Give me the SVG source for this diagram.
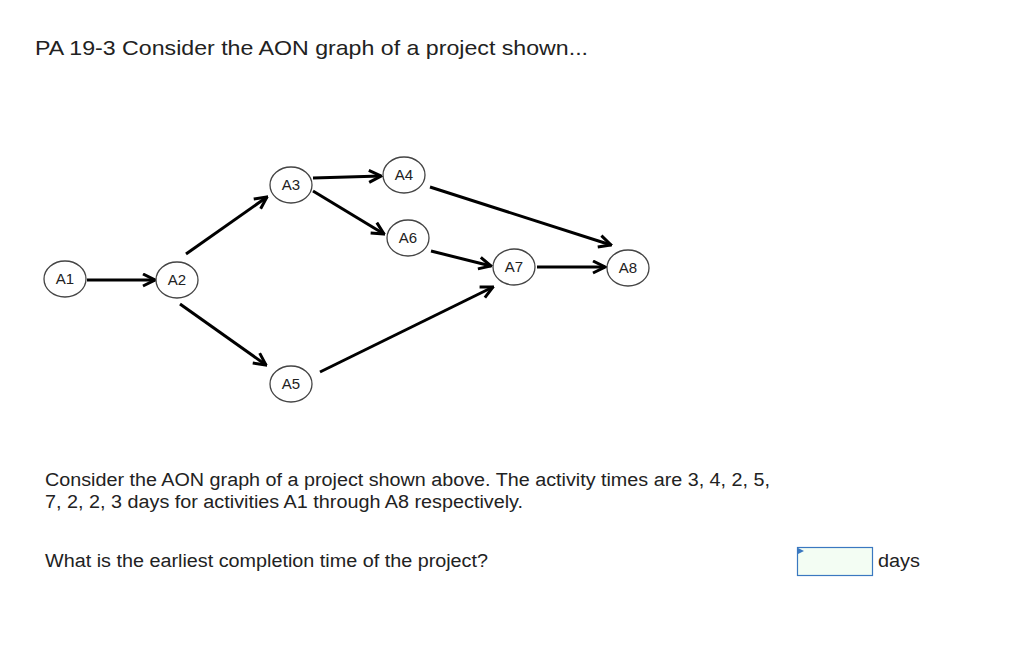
<svg xmlns="http://www.w3.org/2000/svg" width="1024" height="670" viewBox="0 0 1024 670">
<style>
.n ellipse{fill:#fff;stroke:#444;stroke-width:1.3}
.n text{font-family:"Liberation Sans",Arial,sans-serif;font-size:15px;fill:#222;text-anchor:middle}
.e line{stroke:#000;stroke-width:3;marker-end:url(#a)}
.t{font-family:"Liberation Sans",Arial,sans-serif;fill:#222}
</style>
<defs><marker id="a" viewBox="0 0 10 10" refX="9" refY="5" markerWidth="5" markerHeight="5" orient="auto" markerUnits="strokeWidth"><path d="M1,1 L9,5 L1,9" fill="none" stroke="#000" stroke-width="2"/></marker></defs>
<rect width="1024" height="670" fill="#fff"/>
<text class="t" x="35" y="55" font-size="21" textLength="553" lengthAdjust="spacingAndGlyphs">PA 19-3 Consider the AON graph of a project shown...</text>
<g class="e">
<line x1="87" y1="280" x2="155" y2="280"/>
<line x1="186" y1="254" x2="267" y2="197"/>
<line x1="313" y1="178" x2="381" y2="176"/>
<line x1="313" y1="191" x2="384" y2="234"/>
<line x1="430" y1="187" x2="611" y2="245"/>
<line x1="431" y1="251" x2="491" y2="266"/>
<line x1="537" y1="267" x2="605" y2="267"/>
<line x1="180" y1="304" x2="266" y2="365"/>
<line x1="320" y1="372" x2="493" y2="287"/>
</g>
<g id="A1" class="n"><ellipse cx="65" cy="279" rx="21" ry="18"/><text x="65" y="284">A1</text></g>
<g id="A2" class="n"><ellipse cx="177" cy="280" rx="21" ry="18"/><text x="177" y="285">A2</text></g>
<g id="A3" class="n"><ellipse cx="291" cy="185" rx="21" ry="18"/><text x="291" y="190">A3</text></g>
<g id="A4" class="n"><ellipse cx="404" cy="175" rx="21" ry="18"/><text x="404" y="180">A4</text></g>
<g id="A6" class="n"><ellipse cx="408" cy="238" rx="21" ry="18"/><text x="408" y="243">A6</text></g>
<g id="A7" class="n"><ellipse cx="514" cy="267" rx="21" ry="18"/><text x="514" y="272">A7</text></g>
<g id="A8" class="n"><ellipse cx="628" cy="268" rx="21" ry="18"/><text x="628" y="273">A8</text></g>
<g id="A5" class="n"><ellipse cx="291" cy="384" rx="21" ry="18"/><text x="291" y="389">A5</text></g>
<text class="t" x="45" y="486" font-size="18" textLength="725" lengthAdjust="spacingAndGlyphs">Consider the AON graph of a project shown above. The activity times are 3, 4, 2, 5,</text>
<text class="t" x="45" y="508" font-size="18" textLength="478" lengthAdjust="spacingAndGlyphs">7, 2, 2, 3 days for activities A1 through A8 respectively.</text>
<text class="t" x="45" y="567" font-size="18" textLength="443" lengthAdjust="spacingAndGlyphs">What is the earliest completion time of the project?</text>
<rect x="797.5" y="547.5" width="75" height="28" fill="#f3fdf3" stroke="#3a78c0" stroke-width="1.2"/>
<path d="M798,548 L804,551 L798,554 Z" fill="#3a78c0"/>
<text class="t" x="878" y="567" font-size="18" textLength="42" lengthAdjust="spacingAndGlyphs">days</text>
</svg>
